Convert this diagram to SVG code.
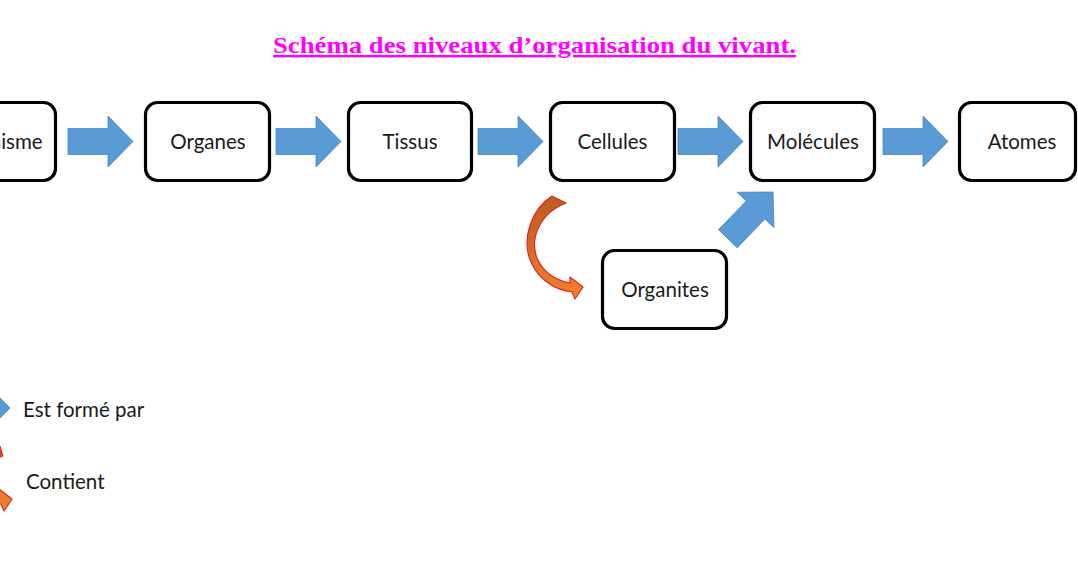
<svg xmlns="http://www.w3.org/2000/svg" width="1078" height="566" viewBox="0 0 1078 566">
  <defs>
    <style>
      .box { fill: #ffffff; stroke: #000000; stroke-width: 3.2; }
      .lbl { font-family: Lato, "Liberation Sans", sans-serif; font-size: 20.5px; fill: #1a1a1a; text-anchor: middle; }
      .leg { font-family: Lato, "Liberation Sans", sans-serif; font-size: 20.5px; fill: #1a1a1a; }
      .blue { fill: #5B9BD5; stroke: #4A84BD; stroke-width: 0.8; }
      .curve { fill: url(#og); stroke: #E0281A; stroke-width: 1.2; stroke-linejoin: round; }
      .title { font-family: "Liberation Serif", "Times New Roman", serif; font-weight: bold; font-size: 24px; fill: #FF00FF; text-decoration: underline; text-anchor: middle; }
    </style>
    <linearGradient id="og" x1="0" y1="0" x2="0" y2="1">
      <stop offset="0" stop-color="#BD5A24"/>
      <stop offset="0.5" stop-color="#D9682A"/>
      <stop offset="1" stop-color="#F2842F"/>
    </linearGradient>
    <path id="blk" d="M-65,-13 L-25,-13 L-25,-25.5 L0,0 L-25,25.5 L-25,13 L-65,13 Z"/>
    <path id="crv" d="M552,196 C531,209 521,240 531,262 C539,280 555,290 572,292 L575,299 L583,287 L570,277 L570,283 C555,280 543,272 537,258 C530,240 538,214 566,203 Z"/>
  </defs>

  <text class="title" x="534.5" y="53" textLength="523" lengthAdjust="spacingAndGlyphs">Schéma des niveaux d’organisation du vivant.</text>

  <g id="connectors">
    <use href="#blk" class="blue" transform="translate(133,141.5)"/>
    <use href="#blk" class="blue" transform="translate(341,141.5)"/>
    <use href="#blk" class="blue" transform="translate(543,141.5)"/>
    <use href="#blk" class="blue" transform="translate(743,141.5)"/>
    <use href="#blk" class="blue" transform="translate(948,141.5)"/>
    <use href="#blk" class="blue" transform="translate(773,192) rotate(-46)"/>
    <use href="#crv" class="curve"/>
  </g>

  <g id="node-organisme">
    <rect class="box" x="-68.5" y="102.5" width="124" height="78" rx="12"/>
    <text class="lbl" x="-6" y="149">Organisme</text>
  </g>
  <g id="node-organes">
    <rect class="box" x="145.5" y="102.5" width="124" height="78" rx="12"/>
    <text class="lbl" x="208" y="149">Organes</text>
  </g>
  <g id="node-tissus">
    <rect class="box" x="348.5" y="102.5" width="123" height="78" rx="12"/>
    <text class="lbl" x="410" y="149">Tissus</text>
  </g>
  <g id="node-cellules">
    <rect class="box" x="550.5" y="102.5" width="124" height="78" rx="12"/>
    <text class="lbl" x="612.5" y="149">Cellules</text>
  </g>
  <g id="node-molecules">
    <rect class="box" x="750.5" y="102.5" width="124" height="78" rx="12"/>
    <text class="lbl" x="813" y="149">Molécules</text>
  </g>
  <g id="node-atomes">
    <rect class="box" x="959.5" y="102.5" width="116" height="78" rx="12"/>
    <text class="lbl" x="1022" y="149">Atomes</text>
  </g>
  <g id="node-organites">
    <rect class="box" x="602.5" y="250.5" width="124" height="78" rx="12"/>
    <text class="lbl" x="665" y="297">Organites</text>
  </g>

  <g id="legend">
    <use href="#blk" class="blue" transform="translate(10,408)"/>
    <text class="leg" x="23" y="417">Est formé par</text>
    <path d="M0,446 L3,456 L0,457 Z" fill="#E8502A" stroke="#E0281A" stroke-width="1"/>
    <use href="#crv" class="curve" transform="translate(-571,212)"/>
    <text class="leg" x="26" y="489">Contient</text>
  </g>
</svg>
